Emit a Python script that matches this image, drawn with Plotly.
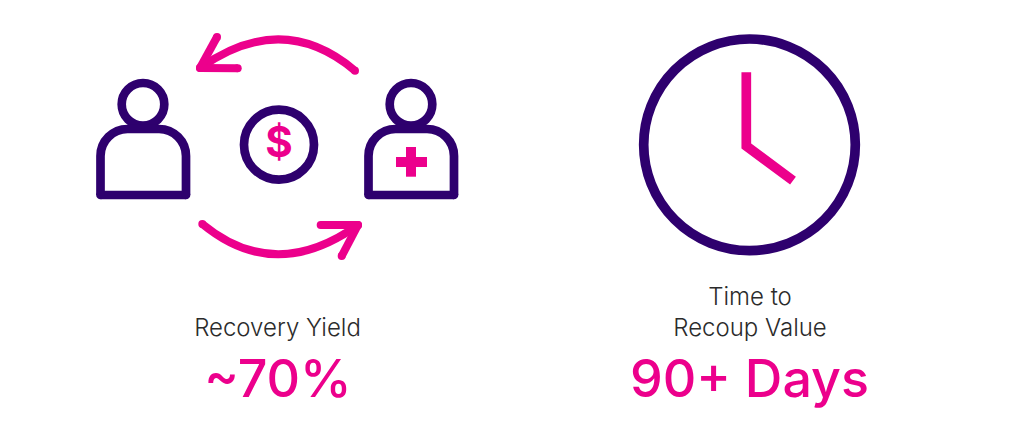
import plotly.graph_objects as go

# text blocks
captions = ["Recovery Yield", "Time to", "Recoup Value"]
caption_x = [277.5, 750, 750]
caption_y = [329.5, 299, 329.5]
values = ["~70%", "90+ Days"]
value_x = [278, 749.5]
value_y = [384, 384]

PURPLE = "#2E006E"
PINK = "#EC008C"
TEXT = "#2B2B2B"

# icon geometry, in picture pixels
person_offsets = [0, 268]
head = (143, 104.3, 21.3)
body = (100.5, 186, 129, 195, 27)
coin = (279, 144.7, 35)
cross_v = (406, 416, 147, 176.7)
cross_h = (396, 427, 157, 167)
top_arc = [(355, 70.7), (282.5, 9.6), (200, 68)]
top_head = [(217, 37), (200, 68), (237.7, 68.3)]
bottom_arc = [(202.3, 224), (275, 284), (358, 225)]
bottom_head = [(320.7, 225), (358, 225), (341.7, 256)]
clock = (749.5, 144.8, 105.8)
hands = [(746.3, 72.3), (746.3, 146), (793, 180.7)]

fig = go.Figure()


def add_path(path, color, width):
    fig.add_shape(type="path", path=path, line=dict(color=color, width=width), layer="above")


def add_circle(cx, cy, r, color, width=0, fill=None):
    fig.add_shape(type="circle", x0=cx - r, x1=cx + r, y0=cy - r, y1=cy + r,
                  line=dict(color=color, width=width), fillcolor=fill, layer="above")


def add_round_line(a, b, color, width):
    add_path(f"M{a[0]},{a[1]} L{b[0]},{b[1]}", color, width)
    for x, y in (a, b):
        add_circle(x, y, width / 2, color, fill=color)


def add_person(dx):
    add_circle(head[0] + dx, head[1], head[2], PURPLE, 8.7)
    x0, x1, top, bottom, r = body
    x0, x1 = x0 + dx, x1 + dx
    k = r * 0.45
    add_path(f"M{x0},{bottom} L{x0},{top + r} C{x0},{top + k} {x0 + k},{top} {x0 + r},{top} "
             f"L{x1 - r},{top} C{x1 - k},{top} {x1},{top + k} {x1},{top + r} L{x1},{bottom}",
             PURPLE, 8.7)
    add_round_line((x0, bottom), (x1, bottom), PURPLE, 8.7)


for dx in person_offsets:
    add_person(dx)

add_circle(*coin, PURPLE, 8.7)
add_circle(*clock, PURPLE, 9.7)

# medical cross
for x0, x1, y0, y1 in [cross_v, cross_h]:
    fig.add_shape(type="rect", x0=x0, x1=x1, y0=y0, y1=y1, fillcolor=PINK, line_width=0, layer="above")

# arrows
for arc, tip in [(top_arc, top_head), (bottom_arc, bottom_head)]:
    (ax, ay), (cx, cy), (bx, by) = arc
    add_path(f"M{ax},{ay} Q{cx},{cy} {bx},{by}", PINK, 8)
    add_circle(ax, ay, 4, PINK, fill=PINK)
    add_round_line(tip[0], tip[1], PINK, 8)
    add_round_line(tip[2], tip[1], PINK, 8)

# clock hands
add_path("M" + " L".join(f"{x},{y}" for x, y in hands), PINK, 9.7)

fig.add_trace(go.Scatter(x=[coin[0]], y=[coin[1] + 1.5], mode="text", text=["$"],
                         textfont=dict(family="Inter", size=42, color=PINK, weight=700)))
fig.add_trace(go.Scatter(x=caption_x, y=caption_y, mode="text", text=captions,
                         textfont=dict(family="Inter", size=24, color=TEXT, weight=300)))
fig.add_trace(go.Scatter(x=value_x, y=value_y, mode="text", text=values,
                         textfont=dict(family="Inter", size=52, color=PINK, weight=500)))

fig.update_layout(
    width=1022, height=433,
    margin=dict(l=0, r=0, t=0, b=0),
    paper_bgcolor="white", plot_bgcolor="white",
    showlegend=False,
    xaxis=dict(range=[0, 1022], visible=False),
    yaxis=dict(range=[433, 0], visible=False),
)

fig.write_html("out.html", config=dict(displayModeBar=False),
               post_script="document.body.style.margin='0';document.body.style.overflow='hidden';")
